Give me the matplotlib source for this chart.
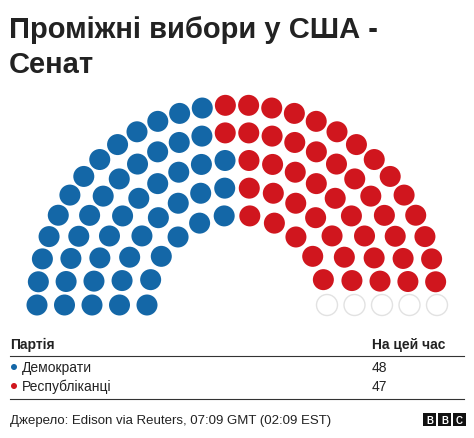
import numpy as np
import matplotlib
matplotlib.use("Agg")
import matplotlib.pyplot as plt
from matplotlib.patches import Circle, Rectangle

title = "Проміжні вибори у США -\nСенат"
parties = ["Демократи", "Республіканці"]
seats = [48, 47]
total_seats = 100
colors = ["#1467a7", "#d0161e"]
row_seats = [12, 16, 20, 24, 28]
source = "Джерело: Edison via Reuters, 07:09 GMT (02:09 EST)"

plt.rcParams['font.family'] = ['Liberation Sans', 'DejaVu Sans']

fig = plt.figure(figsize=(4.74, 4.39), dpi=100)
ax = fig.add_axes([0, 0, 1, 1])
ax.set_xlim(0, 474)
ax.set_ylim(439, 0)
ax.axis('off')

# hemicycle seat positions
cx, cy = 237, 306
radii = np.linspace(90, 200, len(row_seats))
pts = []
for r, n in zip(radii, row_seats):
    for a in np.linspace(np.pi, 0, n):
        pts.append((a, r))
pts.sort(key=lambda p: (-round(p[0], 6), p[1]))

seat_colors = []
for c, n in zip(colors, seats):
    seat_colors += [c] * n
seat_colors += [None] * (total_seats - sum(seats))

for (a, r), c in zip(pts, seat_colors):
    x = cx + r * np.cos(a)
    y = cy - r * np.sin(a)
    if c is None:
        ax.add_patch(Circle((x, y), 10.5, facecolor='white', edgecolor='#e2e2e2', lw=1))
    else:
        ax.add_patch(Circle((x, y), 10.5, facecolor=c, edgecolor='none'))

ax.text(9, 30, "Проміжні вибори у США -", fontsize=21, va='center', ha='left',
        color='#222222', fontweight='semibold')
ax.text(9, 65, "Сенат", fontsize=21, va='center', ha='left',
        color='#222222', fontweight='semibold')

ax.text(10, 345, "Партія", fontsize=10, fontweight='bold', va='center', color='#222222')
ax.text(372, 345, "На цей час", fontsize=10, fontweight='bold', va='center', color='#222222')
ax.plot([10, 464], [357, 357], color='#333333', lw=0.8)
for i, (p, s, c) in enumerate(zip(parties, seats, colors)):
    y = 368 + i * 19
    ax.add_patch(Circle((14, y), 3, facecolor=c, edgecolor='none'))
    ax.text(22, y, p, fontsize=10, va='center', color='#222222')
    ax.text(372, y, str(s), fontsize=10, va='center', color='#222222')
ax.plot([10, 464], [400, 400], color='#333333', lw=0.8)
ax.text(10, 421, source, fontsize=9.5, va='center', color='#222222')

for i, ch in enumerate("BBC"):
    x0 = 423 + i * 15
    ax.add_patch(Rectangle((x0, 414), 13, 13, facecolor='#111111'))
    ax.text(x0 + 6.5, 420.8, ch, fontsize=7, fontweight='bold', color='white',
            ha='center', va='center')

fig.savefig("out.png", dpi=100)
